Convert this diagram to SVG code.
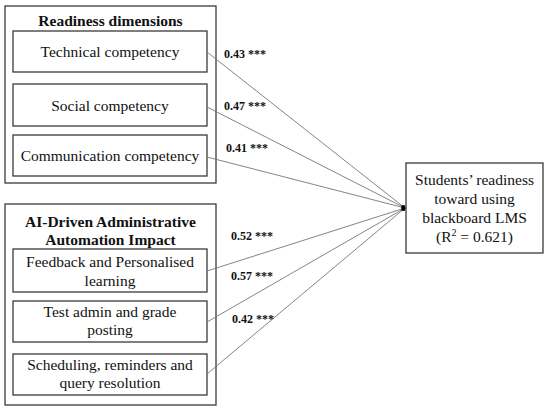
<svg xmlns="http://www.w3.org/2000/svg" width="550" height="411" viewBox="0 0 550 411">
<style>
.box{fill:#fff;stroke:#3a3a3a;stroke-width:1.3}
text{font-family:'Liberation Serif','Times New Roman','DejaVu Serif',serif}
.t{font-size:15.5px;fill:#111;text-anchor:middle}
.b{font-weight:bold}
.lab{font-size:12px;font-weight:bold;fill:#111}
.con{stroke:#777;stroke-width:0.9;fill:none}
</style>
<defs>
<marker id="dot" viewBox="0 0 8 6" refX="7" refY="3" markerWidth="5" markerHeight="5" markerUnits="userSpaceOnUse" orient="auto">
<path d="M0,3 L4,0 L8,3 L4,6 Z" fill="#000"/>
</marker>
</defs>
<rect width="550" height="411" fill="#fff"/>
<g font-family="'Liberation Serif','Times New Roman','DejaVu Serif',serif">
<g id="readiness-group">
<rect class="box" x="5" y="6" width="211" height="177"/>
<text class="t b" x="110.5" y="26">Readiness dimensions</text>
</g>
<g id="technical">
<rect class="box" x="13" y="31" width="194" height="41"/>
<text class="t" x="110" y="57">Technical competency</text>
</g>
<g id="social">
<rect class="box" x="13" y="84" width="194" height="42"/>
<text class="t" x="110" y="111">Social competency</text>
</g>
<g id="communication">
<rect class="box" x="13" y="135" width="194" height="41"/>
<text class="t" x="110" y="161">Communication competency</text>
</g>
<g id="ai-group">
<rect class="box" x="5" y="204" width="211" height="201"/>
<text class="t b" x="110.5" y="227">AI-Driven Administrative</text>
<text class="t b" x="110.5" y="245">Automation Impact</text>
</g>
<g id="feedback">
<rect class="box" x="13" y="249" width="194" height="43"/>
<text class="t" x="110" y="267">Feedback and Personalised</text>
<text class="t" x="110" y="286">learning</text>
</g>
<g id="testadmin">
<rect class="box" x="13" y="301" width="194" height="41"/>
<text class="t" x="110" y="317">Test admin and grade</text>
<text class="t" x="110" y="335">posting</text>
</g>
<g id="scheduling">
<rect class="box" x="13" y="354" width="194" height="41"/>
<text class="t" x="110" y="370">Scheduling, reminders and</text>
<text class="t" x="110" y="388">query resolution</text>
</g>
<g id="outcome">
<rect class="box" x="406" y="163" width="137" height="90"/>
<text class="t" x="474.5" y="185">Students’ readiness</text>
<text class="t" x="474.5" y="204">toward using</text>
<text class="t" x="474.5" y="223">blackboard LMS</text>
<text class="t" x="474.5" y="242">(R<tspan font-size="10" dy="-6">2</tspan><tspan dy="6"> = 0.621)</tspan></text>
</g>
<g id="connectors">
<line class="con" x1="207" y1="52" x2="405" y2="208" marker-end="url(#dot)"/>
<line class="con" x1="207" y1="107" x2="405" y2="208" marker-end="url(#dot)"/>
<line class="con" x1="207" y1="157" x2="405" y2="208" marker-end="url(#dot)"/>
<line class="con" x1="207" y1="271" x2="405" y2="208" marker-end="url(#dot)"/>
<line class="con" x1="207" y1="322" x2="405" y2="208" marker-end="url(#dot)"/>
<line class="con" x1="207" y1="374" x2="405" y2="208" marker-end="url(#dot)"/>
</g>
<g id="labels">
<text class="lab" x="224" y="58">0.43 ***</text>
<text class="lab" x="224" y="110">0.47 ***</text>
<text class="lab" x="226" y="152">0.41 ***</text>
<text class="lab" x="231" y="240">0.52 ***</text>
<text class="lab" x="231" y="280">0.57 ***</text>
<text class="lab" x="232" y="323">0.42 ***</text>
</g>
</g>
</svg>
